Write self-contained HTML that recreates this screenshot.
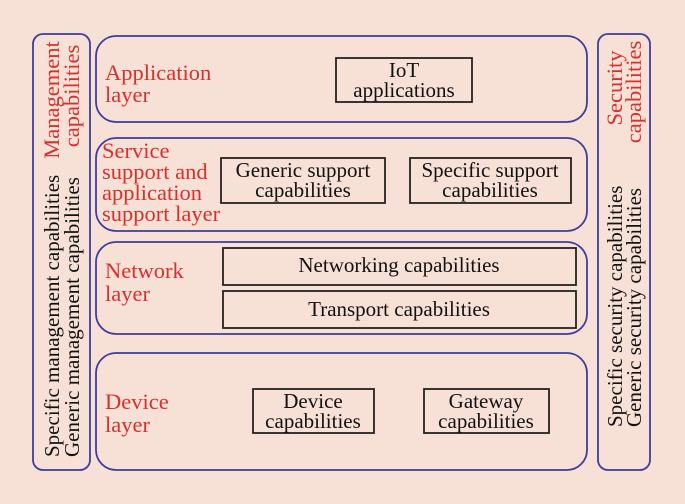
<!DOCTYPE html>
<html><head><style>html,body{margin:0;padding:0;background:#f7e0d6;}svg{display:block}</style></head>
<body>
<svg width="685" height="504" xmlns="http://www.w3.org/2000/svg" font-family="Liberation Serif, serif" font-size="21">
<rect width="685" height="504" fill="#f7e0d6"/>
<g fill="none" stroke="#3d3d9c" stroke-width="1.8">
<rect x="33" y="34" width="57" height="436" rx="10"/>
<rect x="598" y="34" width="52" height="436" rx="10"/>
<rect x="96" y="36" width="491" height="86" rx="20"/>
<rect x="96" y="138" width="491" height="93" rx="20"/>
<rect x="96" y="242" width="491" height="92" rx="20"/>
<rect x="96" y="353" width="491" height="117" rx="20"/>
</g>
<g fill="none" stroke="#222" stroke-width="1.8">
<rect x="336" y="58" width="136" height="44"/>
<rect x="221" y="158" width="164" height="45"/>
<rect x="410" y="158" width="161" height="45"/>
<rect x="223" y="248" width="353" height="37"/>
<rect x="223" y="291" width="353" height="37"/>
<rect x="253" y="389" width="121" height="44"/>
<rect x="424" y="389" width="125" height="44"/>
</g>
<g fill="#d8302c" font-size="22.5">
<text x="105" y="80">Application</text><text x="105" y="102">layer</text>
<text x="102" y="158">Service</text><text x="102" y="179">support and</text><text x="102" y="200">application</text><text x="102" y="221">support layer</text>
<text x="105" y="278">Network</text><text x="105" y="301">layer</text>
<text x="105" y="409">Device</text><text x="105" y="432">layer</text>
<text transform="translate(59,100) rotate(-90)" text-anchor="middle">Management</text>
<text transform="translate(79,96) rotate(-90)" text-anchor="middle">capabilities</text>
<text transform="translate(622,88) rotate(-90)" text-anchor="middle">Security</text>
<text transform="translate(641,92) rotate(-90)" text-anchor="middle">capabilities</text>
</g>
<g fill="#111" text-anchor="middle">
<text x="404" y="77">IoT</text><text x="404" y="97">applications</text>
<text x="303" y="177">Generic support</text><text x="303" y="197">capabilities</text>
<text x="490" y="177">Specific support</text><text x="490" y="197">capabilities</text>
<text x="399" y="272">Networking capabilities</text>
<text x="399" y="316">Transport capabilities</text>
<text x="313" y="408">Device</text><text x="313" y="428">capabilities</text>
<text x="486" y="408">Gateway</text><text x="486" y="428">capabilities</text>
</g>
<g fill="#111">
<text transform="translate(59,457) rotate(-90)">Specific management capabilities</text>
<text transform="translate(79,457) rotate(-90)">Generic management capabilities</text>
<text transform="translate(622,427) rotate(-90)">Specific security capabilities</text>
<text transform="translate(641,427) rotate(-90)">Generic security capabilities</text>
</g>
</svg>
</body></html>
